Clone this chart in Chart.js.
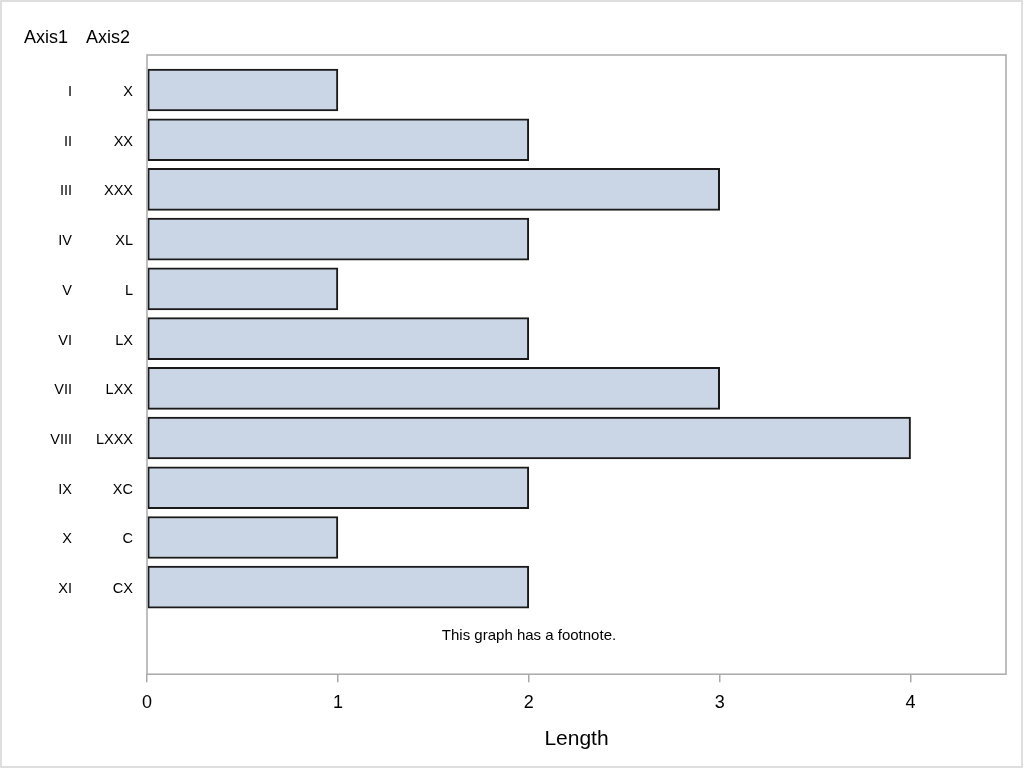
<!DOCTYPE html>
<html>
<head>
<meta charset="utf-8">
<script src="https://cdn.jsdelivr.net/npm/chart.js@4"></script>
<style>
  body { margin: 0; background: #fff; }
  canvas { display: block; }
</style>
</head>
<body>
<canvas id="chartLength" width="1024" height="768"></canvas>
<script>
// data
var axis1Labels = ['I', 'II', 'III', 'IV', 'V', 'VI', 'VII', 'VIII', 'IX', 'X', 'XI'];
var axis2Labels = ['X', 'XX', 'XXX', 'XL', 'L', 'LX', 'LXX', 'LXXX', 'XC', 'C', 'CX'];
var lengths = [1, 2, 3, 2, 1, 2, 3, 4, 2, 1, 2];
var xTicks = [0, 1, 2, 3, 4];

var FONT = '"Liberation Sans", Arial, sans-serif';
var GRAY = '#a9a9a9';

function rowTicks(scale) {
    scale.ticks = lengths.map(function (v, i) { return { value: i + 1 }; });
}

// frame, column headers and footnote
var extras = {
    id: 'extras',
    afterDraw: function (chart) {
        var ctx = chart.ctx, a = chart.chartArea;
        ctx.save();
        ctx.strokeStyle = GRAY;
        ctx.lineWidth = 1.5;
        ctx.strokeRect(a.left, a.top, a.right - a.left, a.bottom - a.top);
        ctx.strokeStyle = '#d4d4d4';
        ctx.strokeRect(1, 1, 1021, 766);
        ctx.fillStyle = '#000';
        ctx.font = '18px ' + FONT;
        ctx.textBaseline = 'alphabetic';
        ctx.textAlign = 'left';
        ctx.fillText('Axis1', 24, 43);
        ctx.fillText('Axis2', 86, 43);
        ctx.font = '15px ' + FONT;
        ctx.textAlign = 'center';
        ctx.textBaseline = 'middle';
        ctx.fillText('This graph has a footnote.', 529, 636);
        ctx.restore();
    }
};

document.addEventListener("DOMContentLoaded", function () {
    var ctx = document.getElementById('chartLength').getContext('2d');
    var chart = new Chart(ctx, {
        type: 'bar',
        data: {
            datasets: [{
                label: 'Length',
                data: lengths.map(function (v, i) { return { x: v, y: i + 1 }; }),
                yAxisID: 'y',
                backgroundColor: '#cad5e5',
                borderColor: '#1a1a1a',
                borderWidth: 2,
                borderSkipped: false,
                barThickness: 42
            }]
        },
        options: {
            indexAxis: 'y',
            responsive: false,
            animation: false,
            layout: { padding: { top: 55, right: 18, bottom: 12, left: 0 } },
            plugins: { legend: { display: false }, tooltip: { enabled: false } },
            scales: {
                x: {
                    type: 'linear',
                    min: 0,
                    max: 4.5,
                    afterBuildTicks: function (s) { s.ticks = xTicks.map(function (v) { return { value: v }; }); },
                    grid: { drawOnChartArea: false, tickLength: 8, color: GRAY, lineWidth: 1.5 },
                    border: { display: false },
                    ticks: { color: '#000', padding: 10, font: { family: FONT, size: 18 } },
                    title: {
                        display: true, text: 'Length', color: '#000',
                        font: { family: FONT, size: 21 },
                        padding: { top: 3, bottom: 4 }
                    }
                },
                y: {
                    type: 'linear',
                    position: 'left',
                    weight: 0,
                    reverse: true,
                    offset: false,
                    min: 0.296,
                    max: 12.75,
                    afterBuildTicks: rowTicks,
                    afterFit: function (s) { s.width = 67; },
                    grid: { display: false, drawTicks: false },
                    border: { display: false },
                    ticks: {
                        color: '#000', padding: 14, labelOffset: 2, font: { family: FONT, size: 14.5 },
                        callback: function (v) { return axis2Labels[v - 1]; }
                    }
                },
                y1: {
                    type: 'linear',
                    position: 'left',
                    weight: 1,
                    reverse: true,
                    offset: false,
                    min: 0.296,
                    max: 12.75,
                    afterBuildTicks: rowTicks,
                    afterFit: function (s) { s.width = 80; },
                    grid: { display: false, drawTicks: false },
                    border: { display: false },
                    ticks: {
                        color: '#000', padding: 8, labelOffset: 2, font: { family: FONT, size: 14.5 },
                        callback: function (v) { return axis1Labels[v - 1]; }
                    }
                }
            }
        },
        plugins: [extras]
    });
});
</script>
</body>
</html>
